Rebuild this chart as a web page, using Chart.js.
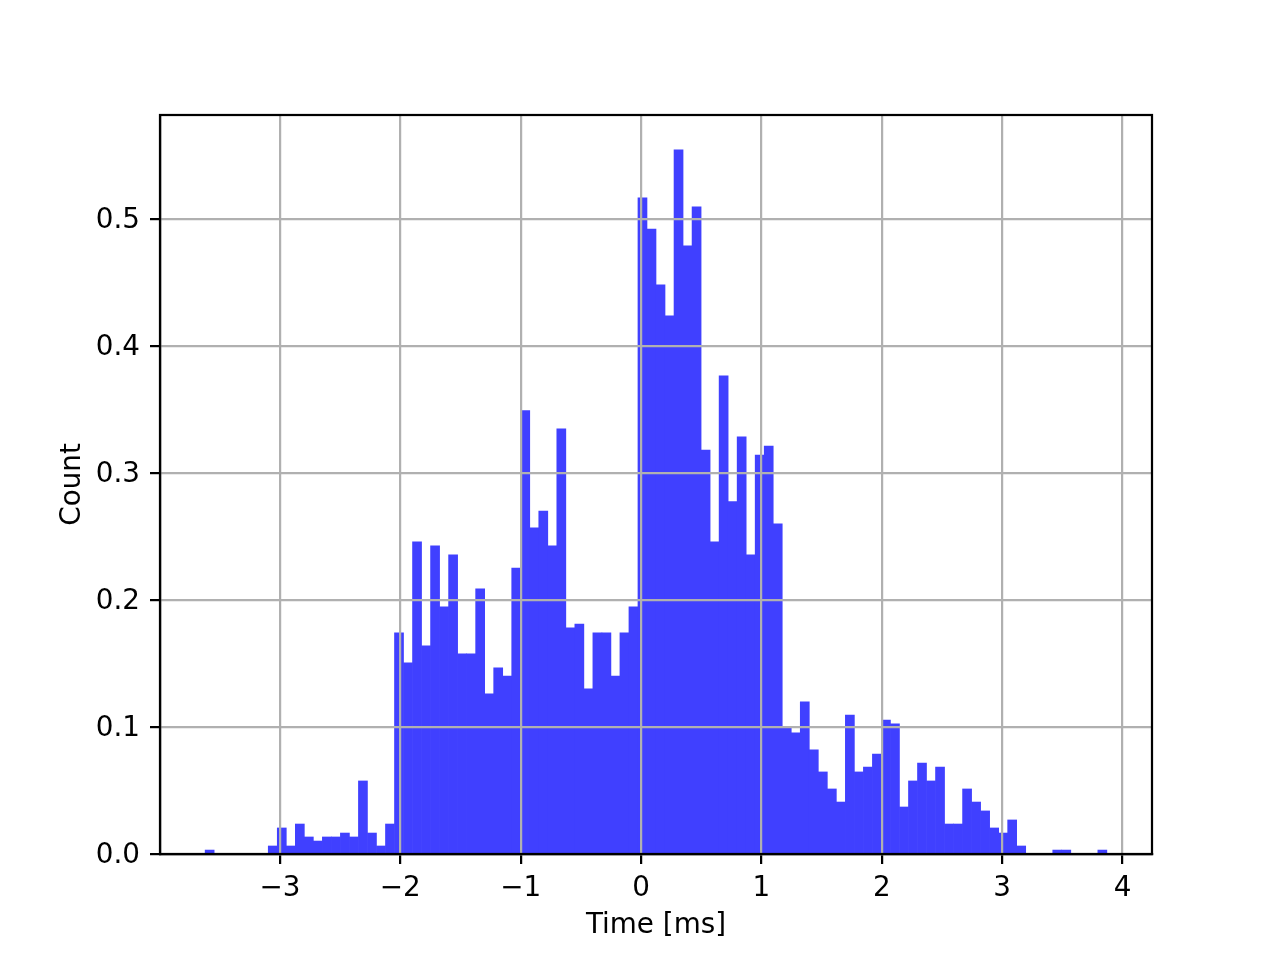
<!DOCTYPE html>
<html>
<head>
<meta charset="utf-8">
<script src="https://cdn.jsdelivr.net/npm/chart.js@4/dist/chart.umd.min.js"></script>
<style>
  html, body { margin: 0; padding: 0; background: #ffffff; }
  #wrap { width: 1280px; height: 960px; }
</style>
</head>
<body>
<div id="wrap"><canvas id="c" width="1280" height="960"></canvas></div>
<script>
// Histogram bins (100 bins)
const binStart = -3.621;
const binWidth = 0.07491;
const binCount = 100;

// Density per bin
const density = [
  0.0031, 0, 0, 0, 0, 0, 0, 0.0063, 0.0205, 0.0063,
  0.0236, 0.0134, 0.0102, 0.0134, 0.0134, 0.0165, 0.0134, 0.0575, 0.0165, 0.0063,
  0.0236, 0.174, 0.1504, 0.2457, 0.1638, 0.2425, 0.1945, 0.2354, 0.1575, 0.1575,
  0.2087, 0.126, 0.1465, 0.140, 0.225, 0.349, 0.2567, 0.270, 0.2425, 0.3346,
  0.178, 0.181, 0.130, 0.174, 0.174, 0.140, 0.174, 0.1945, 0.5165, 0.492,
  0.448, 0.4236, 0.5543, 0.4787, 0.5094, 0.318, 0.2457, 0.3764, 0.2774, 0.3283,
  0.2354, 0.314, 0.321, 0.2598, 0.100, 0.0953, 0.1197, 0.0819, 0.0646, 0.0512,
  0.0409, 0.1094, 0.0646, 0.0685, 0.0787, 0.1055, 0.1024, 0.0370, 0.0575, 0.0716,
  0.0575, 0.0685, 0.0236, 0.0236, 0.0512, 0.0409, 0.0339, 0.0205, 0.0165, 0.0268,
  0.0063, 0, 0, 0, 0.0031, 0.0031, 0, 0, 0, 0.0031
];

const xTicks = [-3, -2, -1, 0, 1, 2, 3, 4];
const yTicks = [0, 0.1, 0.2, 0.3, 0.4, 0.5];
const xTitle = 'Time [ms]';
const yTitle = 'Count';

const xMin = -3.996, xMax = 4.245;
const yMin = 0, yMax = 0.5817;

const points = density.map((v, i) => ({ x: binStart + (i + 0.5) * binWidth, y: v }));

const FONT = { family: "'DejaVu Sans', sans-serif", size: 27.8, lineHeight: 1 };
const LW = 2.22;

const framePlugin = {
  id: 'frame',
  afterDraw(chart) {
    const a = chart.chartArea, ctx = chart.ctx;
    ctx.save();
    ctx.strokeStyle = '#000000';
    ctx.lineWidth = LW;
    ctx.strokeRect(a.left, a.top, a.right - a.left, a.bottom - a.top);
    ctx.restore();
  }
};

new Chart(document.getElementById('c'), {
  type: 'bar',
  data: {
    datasets: [{
      data: points,
      backgroundColor: '#4040ff',
      borderWidth: 0,
      barPercentage: 1.0,
      categoryPercentage: 1.0
    }]
  },
  options: {
    responsive: false,
    animation: false,
    devicePixelRatio: 1,
    layout: { padding: { left: 0, right: 128, top: 115, bottom: 0 } },
    plugins: { legend: { display: false }, tooltip: { enabled: false } },
    scales: {
      x: {
        type: 'linear',
        offset: false,
        min: xMin, max: xMax,
        afterFit(s) { s.height = 106; },
        afterBuildTicks(s) { s.ticks = xTicks.map(v => ({ value: v })); },
        grid: { z: 1, offset: false, color: '#b0b0b0', lineWidth: LW, tickColor: '#000000', tickWidth: LW, tickLength: 10, drawTicks: true },
        border: { z: 2, display: true, color: '#000000', width: LW },
        ticks: {
          autoSkip: false, maxRotation: 0, minRotation: 0,
          padding: 11, color: '#000000', font: FONT,
          callback: v => (v < 0 ? '\u2212' + Math.abs(v) : String(v))
        },
        title: { display: true, text: xTitle, color: '#000000', font: FONT, padding: { top: 0, bottom: 20 } }
      },
      y: {
        type: 'linear',
        min: yMin, max: yMax,
        afterFit(s) { s.width = 160; },
        afterBuildTicks(s) { s.ticks = yTicks.map(v => ({ value: v })); },
        grid: { z: 1, offset: false, color: '#b0b0b0', lineWidth: LW, tickColor: '#000000', tickWidth: LW, tickLength: 10, drawTicks: true },
        border: { z: 2, display: true, color: '#000000', width: LW },
        ticks: {
          autoSkip: false, padding: 10, color: '#000000', font: FONT, labelOffset: 2,
          callback: v => Number(v).toFixed(1)
        },
        title: { display: true, text: yTitle, color: '#000000', font: FONT, padding: { top: 59, bottom: 0 } }
      }
    }
  },
  plugins: [framePlugin]
});
</script>
</body>
</html>
